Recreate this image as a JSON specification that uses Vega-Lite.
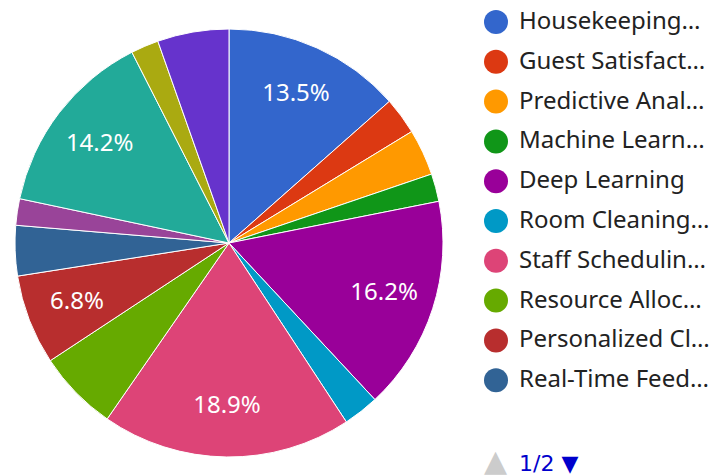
{
  "$schema": "https://vega.github.io/schema/vega-lite/v6.json",
  "width": 458,
  "height": 486,
  "autosize": "none",
  "padding": {"left": 0, "top": 0, "right": 255, "bottom": 0},
  "background": "white",
  "config": {"view": {"stroke": null}, "font": "Noto Sans"},
  "title": {
    "text": "1/2 ▼",
    "color": "#0000cc",
    "orient": "bottom",
    "anchor": "start",
    "frame": "group",
    "offset": 0,
    "dx": 519,
    "dy": -32,
    "fontSize": 22,
    "fontWeight": "normal",
    "font": "DejaVu Sans"
  },
  "data": {
    "values": [
      {"idx": 0, "category": "Housekeeping Optimization", "value": 13.5, "label": "13.5%"},
      {"idx": 1, "category": "Guest Satisfaction Analysis", "value": 2.8, "label": ""},
      {"idx": 2, "category": "Predictive Analytics", "value": 3.5, "label": ""},
      {"idx": 3, "category": "Machine Learning Models", "value": 2.1, "label": ""},
      {"idx": 4, "category": "Deep Learning", "value": 16.2, "label": "16.2%"},
      {"idx": 5, "category": "Room Cleaning Automation", "value": 2.7, "label": ""},
      {"idx": 6, "category": "Staff Scheduling Optimization", "value": 18.9, "label": "18.9%"},
      {"idx": 7, "category": "Resource Allocation", "value": 6.1, "label": ""},
      {"idx": 8, "category": "Personalized Cleaning Services", "value": 6.8, "label": "6.8%"},
      {"idx": 9, "category": "Real-Time Feedback", "value": 3.8, "label": ""},
      {"idx": 10, "category": "Energy Management", "value": 2.0, "label": ""},
      {"idx": 11, "category": "Inventory Forecasting", "value": 14.2, "label": "14.2%"},
      {"idx": 12, "category": "Chatbot Assistance", "value": 2.1, "label": ""},
      {"idx": 13, "category": "Maintenance Prediction", "value": 5.4, "label": ""}
    ]
  },
  "layer": [
    {
      "mark": {"type": "arc", "outerRadius": 214, "stroke": "white", "strokeWidth": 1},
      "encoding": {
        "theta": {"field": "value", "type": "quantitative", "stack": true},
        "order": {"field": "idx", "type": "quantitative"},
        "color": {
          "field": "category",
          "type": "nominal",
          "scale": {
            "domain": ["Housekeeping Optimization", "Guest Satisfaction Analysis", "Predictive Analytics", "Machine Learning Models", "Deep Learning", "Room Cleaning Automation", "Staff Scheduling Optimization", "Resource Allocation", "Personalized Cleaning Services", "Real-Time Feedback", "Energy Management", "Inventory Forecasting", "Chatbot Assistance", "Maintenance Prediction"],
            "range": ["#3366cc", "#dc3912", "#ff9900", "#109618", "#990099", "#0099c6", "#dd4477", "#66aa00", "#b82e2e", "#316395", "#994499", "#22aa99", "#aaaa11", "#6633cc"]
          },
          "legend": {
            "orient": "none",
            "legendX": 484,
            "legendY": 10,
            "values": ["Housekeeping Optimization", "Guest Satisfaction Analysis", "Predictive Analytics", "Machine Learning Models", "Deep Learning", "Room Cleaning Automation", "Staff Scheduling Optimization", "Resource Allocation", "Personalized Cleaning Services", "Real-Time Feedback"],
            "labelExpr": "datum.label == 'Housekeeping Optimization' ? 'Housekeeping…' : datum.label == 'Machine Learning Models' ? 'Machine Learn…' : datum.label",
            "symbolType": "circle",
            "symbolSize": 576,
            "symbolStrokeWidth": 0,
            "labelFontSize": 24,
            "labelColor": "#222222",
            "labelLimit": 192,
            "labelOffset": 11,
            "rowPadding": 15.8,
            "title": "▲",
            "titleOrient": "bottom",
            "titlePadding": 55,
            "titleFontSize": 30,
            "titleFontWeight": "normal",
            "titleColor": "#cccccc",
            "titleFont": "DejaVu Sans"
          }
        }
      }
    },
    {
      "mark": {"type": "text", "radius": 163, "fontSize": 24, "align": "center", "baseline": "middle"},
      "encoding": {
        "theta": {"field": "value", "type": "quantitative", "stack": true},
        "order": {"field": "idx", "type": "quantitative"},
        "detail": {"field": "category", "type": "nominal"},
        "text": {"field": "label", "type": "nominal"},
        "color": {"value": "white"}
      }
    }
  ]
}
